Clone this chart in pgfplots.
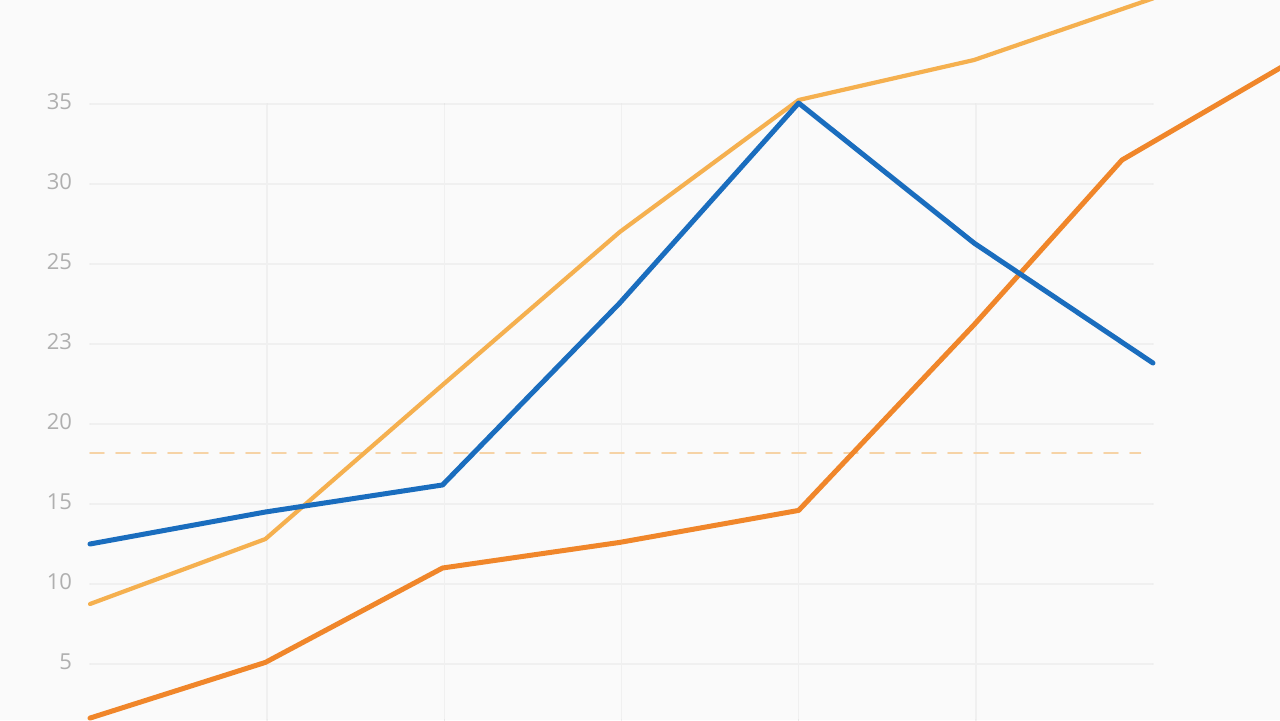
\documentclass[border=0pt]{standalone}
\usepackage{fontspec}
\setmainfont{Open Sans}
\usepackage{pgfplots}
\pgfplotsset{compat=1.18}
\definecolor{cblue}{HTML}{1A6DBE}
\definecolor{corange}{HTML}{F0862A}
\definecolor{clight}{HTML}{F5B04F}
\definecolor{cdash}{HTML}{F6D3A6}
\definecolor{cgrid}{HTML}{F0F0F0}
\definecolor{cbg}{HTML}{FAFAFA}
\definecolor{ctick}{HTML}{AFAFAF}
\begin{document}
\begin{tikzpicture}
\fill[cbg] (-45pt,0pt) rectangle (595pt,360pt);
\begin{axis}[
  scale only axis,
  width=531.5pt, height=308pt,
  xmin=0, xmax=6, ymin=1.5, ymax=40,
  clip=false,
  axis line style={draw=none},
  major tick length=0pt,
  xtick={1,2,3,4,5},
  xticklabels={},
  ytick={5,10,15,20,25,30,35,40},
  yticklabels={5,10,15,20,23,25,30,35},
  /pgf/number format/assume math mode=true,
  yticklabel style={font=\fontsize{11}{13}\selectfont, text=ctick, xshift=-5.5pt, yshift=1pt},
  grid=major,
  major grid style={cgrid, line width=0.75pt},
  line join=round, line cap=round,
]
\addplot[cdash, line width=0.8pt, dash pattern=on 7pt off 6pt] coordinates {(0,18.19) (5.93,18.19)};
\addplot[clight, line width=2.1pt] coordinates {
(0,8.75) (0.99,12.81) (1.99,22.44) (2.99,32) (4.0,40.25) (4.99,42.75) (6.0,46.6) (6.5,49.5)};
\addplot[corange, line width=2.5pt] coordinates {
(0,1.62) (0.99,5.1) (1.99,11) (2.99,12.6) (4.0,14.6) (4.99,26.2) (5.825,36.5) (6.717,42.25) (7.0,44.1)};
\addplot[cblue, line width=2.5pt] coordinates {
(0,12.5) (0.99,14.5) (1.99,16.19) (2.99,27.56) (4.0,40.06) (4.99,31.31) (6.0,23.81)};
\end{axis}
\pgfresetboundingbox
\path[use as bounding box] (-45pt,0pt) rectangle (595pt,360pt);
\end{tikzpicture}
\end{document}
